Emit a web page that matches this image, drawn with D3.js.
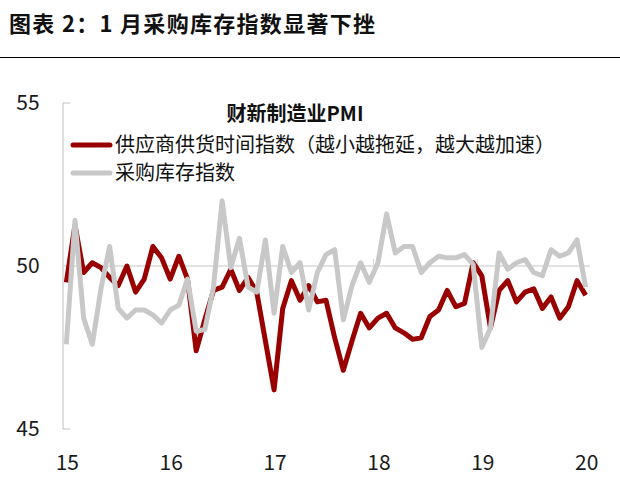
<!DOCTYPE html>
<html>
<head>
<meta charset="utf-8">
<script src="https://cdn.jsdelivr.net/npm/d3@7"></script>
<style>
  body { margin: 0; background: #fff; }
  text { font-family: "Noto Sans CJK SC", sans-serif; }
</style>
</head>
<body>
<div id="vis-container"></div>
<script>
const width = 620,
      height = 492,
      margin = {
          top: 103,
          bottom: 63,
          left: 62,
          right: 30,
      };

// Months Jan 2015 .. Jan 2020
var months = d3.range(61);
var yearLabels = ["15", "16", "17", "18", "19", "20"];
var yTicks = [45, 50, 55];

// 供应商供货时间指数
var supplierDelivery = [
    49.5, 51.25, 49.8, 50.1, 49.95, 49.65, 49.4, 50.0, 49.2, 49.6, 50.6, 50.25,
    49.6, 50.3, 49.6, 47.4, 48.35, 49.25, 49.35, 49.9, 49.25, 49.65, 49.2, 47.7,
    46.2, 48.7, 49.55, 48.95, 49.4, 48.9, 48.95, 47.8, 46.8, 47.7, 48.55, 48.1,
    48.4, 48.55, 48.1, 47.95, 47.75, 47.8, 48.45, 48.65, 49.25, 48.75, 48.85, 50.1,
    49.7, 48.1, 49.25, 49.55, 48.9, 49.2, 49.3, 48.7, 49.05, 48.4, 48.75, 49.55,
    49.1
];

// 采购库存指数
var purchaseInventory = [
    47.6, 51.4, 48.4, 47.6, 49.3, 50.6, 48.7, 48.4, 48.65, 48.65, 48.5, 48.25,
    48.65, 48.8, 49.6, 48.0, 48.05, 49.35, 52.0, 49.95, 50.85, 49.35, 49.2, 50.8,
    48.55, 50.6, 49.8, 50.1, 48.65, 49.8, 50.35, 50.5, 48.35, 49.4, 50.1, 49.5,
    50.1, 51.6, 50.4, 50.6, 50.6, 49.8, 50.1, 50.3, 50.25, 50.25, 50.35, 50.05,
    47.5, 48.1, 50.4, 49.9, 50.1, 50.2, 49.8, 49.7, 50.5, 50.3, 50.4, 50.8,
    49.35
];

var seriesNames = ["供应商供货时间指数（越小越拖延，越大越加速）", "采购库存指数"];
var seriesColors = ["#990000", "#c8c8c8"];

var svg = d3.select("#vis-container").append("svg")
    .attr("width", width)
    .attr("height", height);

// ******* Title *******
svg.append("text")
    .attr("x", 9)
    .attr("y", 32)
    .attr("font-size", 22)
    .attr("font-weight", "bold")
    .attr("letter-spacing", 1.3)
    .attr("fill", "#111")
    .text("图表 2：1 月采购库存指数显著下挫");

svg.append("line")
    .attr("x1", 0).attr("x2", width)
    .attr("y1", 57.5).attr("y2", 57.5)
    .attr("stroke", "#000")
    .attr("stroke-width", 1.2);

// ******* Scales *******
var x = d3.scalePoint().domain(months).range([margin.left, width - margin.right]).padding(0.5);
var y = d3.scaleLinear().domain([45, 55]).range([height - margin.bottom, margin.top]);
var step = x.step();

// y axis line + ticks
svg.append("line")
    .attr("x1", margin.left + 1).attr("x2", margin.left + 1)
    .attr("y1", y(55)).attr("y2", y(45))
    .attr("stroke", "#bfbfbf");
svg.selectAll(".ytick")
    .data([45, 55])
    .enter()
    .append("line")
    .attr("x1", margin.left + 1).attr("x2", margin.left + 8)
    .attr("y1", function(d) {return y(d);}).attr("y2", function(d) {return y(d);})
    .attr("stroke", "#bfbfbf");

// 50 line (x axis)
svg.append("line")
    .attr("x1", margin.left + 1).attr("x2", width - margin.right)
    .attr("y1", y(50)).attr("y2", y(50))
    .attr("stroke", "#d9d9d9")
    .attr("stroke-width", 1.5);
svg.selectAll(".xtick")
    .data(months.filter(function(m) {return m % 12 == 0 && m > 0;}))
    .enter()
    .append("line")
    .attr("x1", function(d) {return x(d) - step / 2;})
    .attr("x2", function(d) {return x(d) - step / 2;})
    .attr("y1", y(50)).attr("y2", y(50) - 7)
    .attr("stroke", "#d9d9d9");

// tick labels
svg.selectAll(".ylabel")
    .data(yTicks)
    .enter()
    .append("text")
    .attr("x", 28)
    .attr("y", function(d) {return y(d) + 7;})
    .attr("text-anchor", "middle")
    .attr("font-family", "Lato, sans-serif")
    .attr("font-size", 21)
    .attr("fill", "#1a1a1a")
    .text(function(d) {return d;});

svg.selectAll(".xlabel")
    .data(yearLabels)
    .enter()
    .append("text")
    .attr("x", function(d, i) {return x(i * 12) + 1;})
    .attr("y", 470)
    .attr("text-anchor", "middle")
    .attr("font-family", "Lato, sans-serif")
    .attr("font-size", 21)
    .attr("fill", "#1a1a1a")
    .text(function(d) {return d;});

// ******* Lines *******
var line = d3.line()
    .x(function(d, i) {return x(months[i]);})
    .y(function(d) {return y(d);});

[supplierDelivery, purchaseInventory].forEach(function(series, k) {
    svg.append("path")
        .attr("d", line(series))
        .attr("fill", "none")
        .attr("stroke", seriesColors[k])
        .attr("stroke-width", 5)
        .attr("stroke-linejoin", "round");
});

// ******* Legend *******
svg.append("text")
    .attr("x", 295)
    .attr("y", 121)
    .attr("text-anchor", "middle")
    .attr("font-size", 20)
    .attr("font-weight", "bold")
    .attr("fill", "#111")
    .text("财新制造业PMI");

seriesNames.forEach(function(name, k) {
    var ly = 145 + k * 28;
    svg.append("line")
        .attr("x1", 73).attr("x2", 110)
        .attr("y1", ly).attr("y2", ly)
        .attr("stroke", seriesColors[k])
        .attr("stroke-width", 5)
        .attr("stroke-linecap", "round");
    svg.append("text")
        .attr("x", 115)
        .attr("y", ly + 7)
        .attr("font-size", 20)
        .attr("fill", "#111")
        .text(name);
});
</script>
</body>
</html>
